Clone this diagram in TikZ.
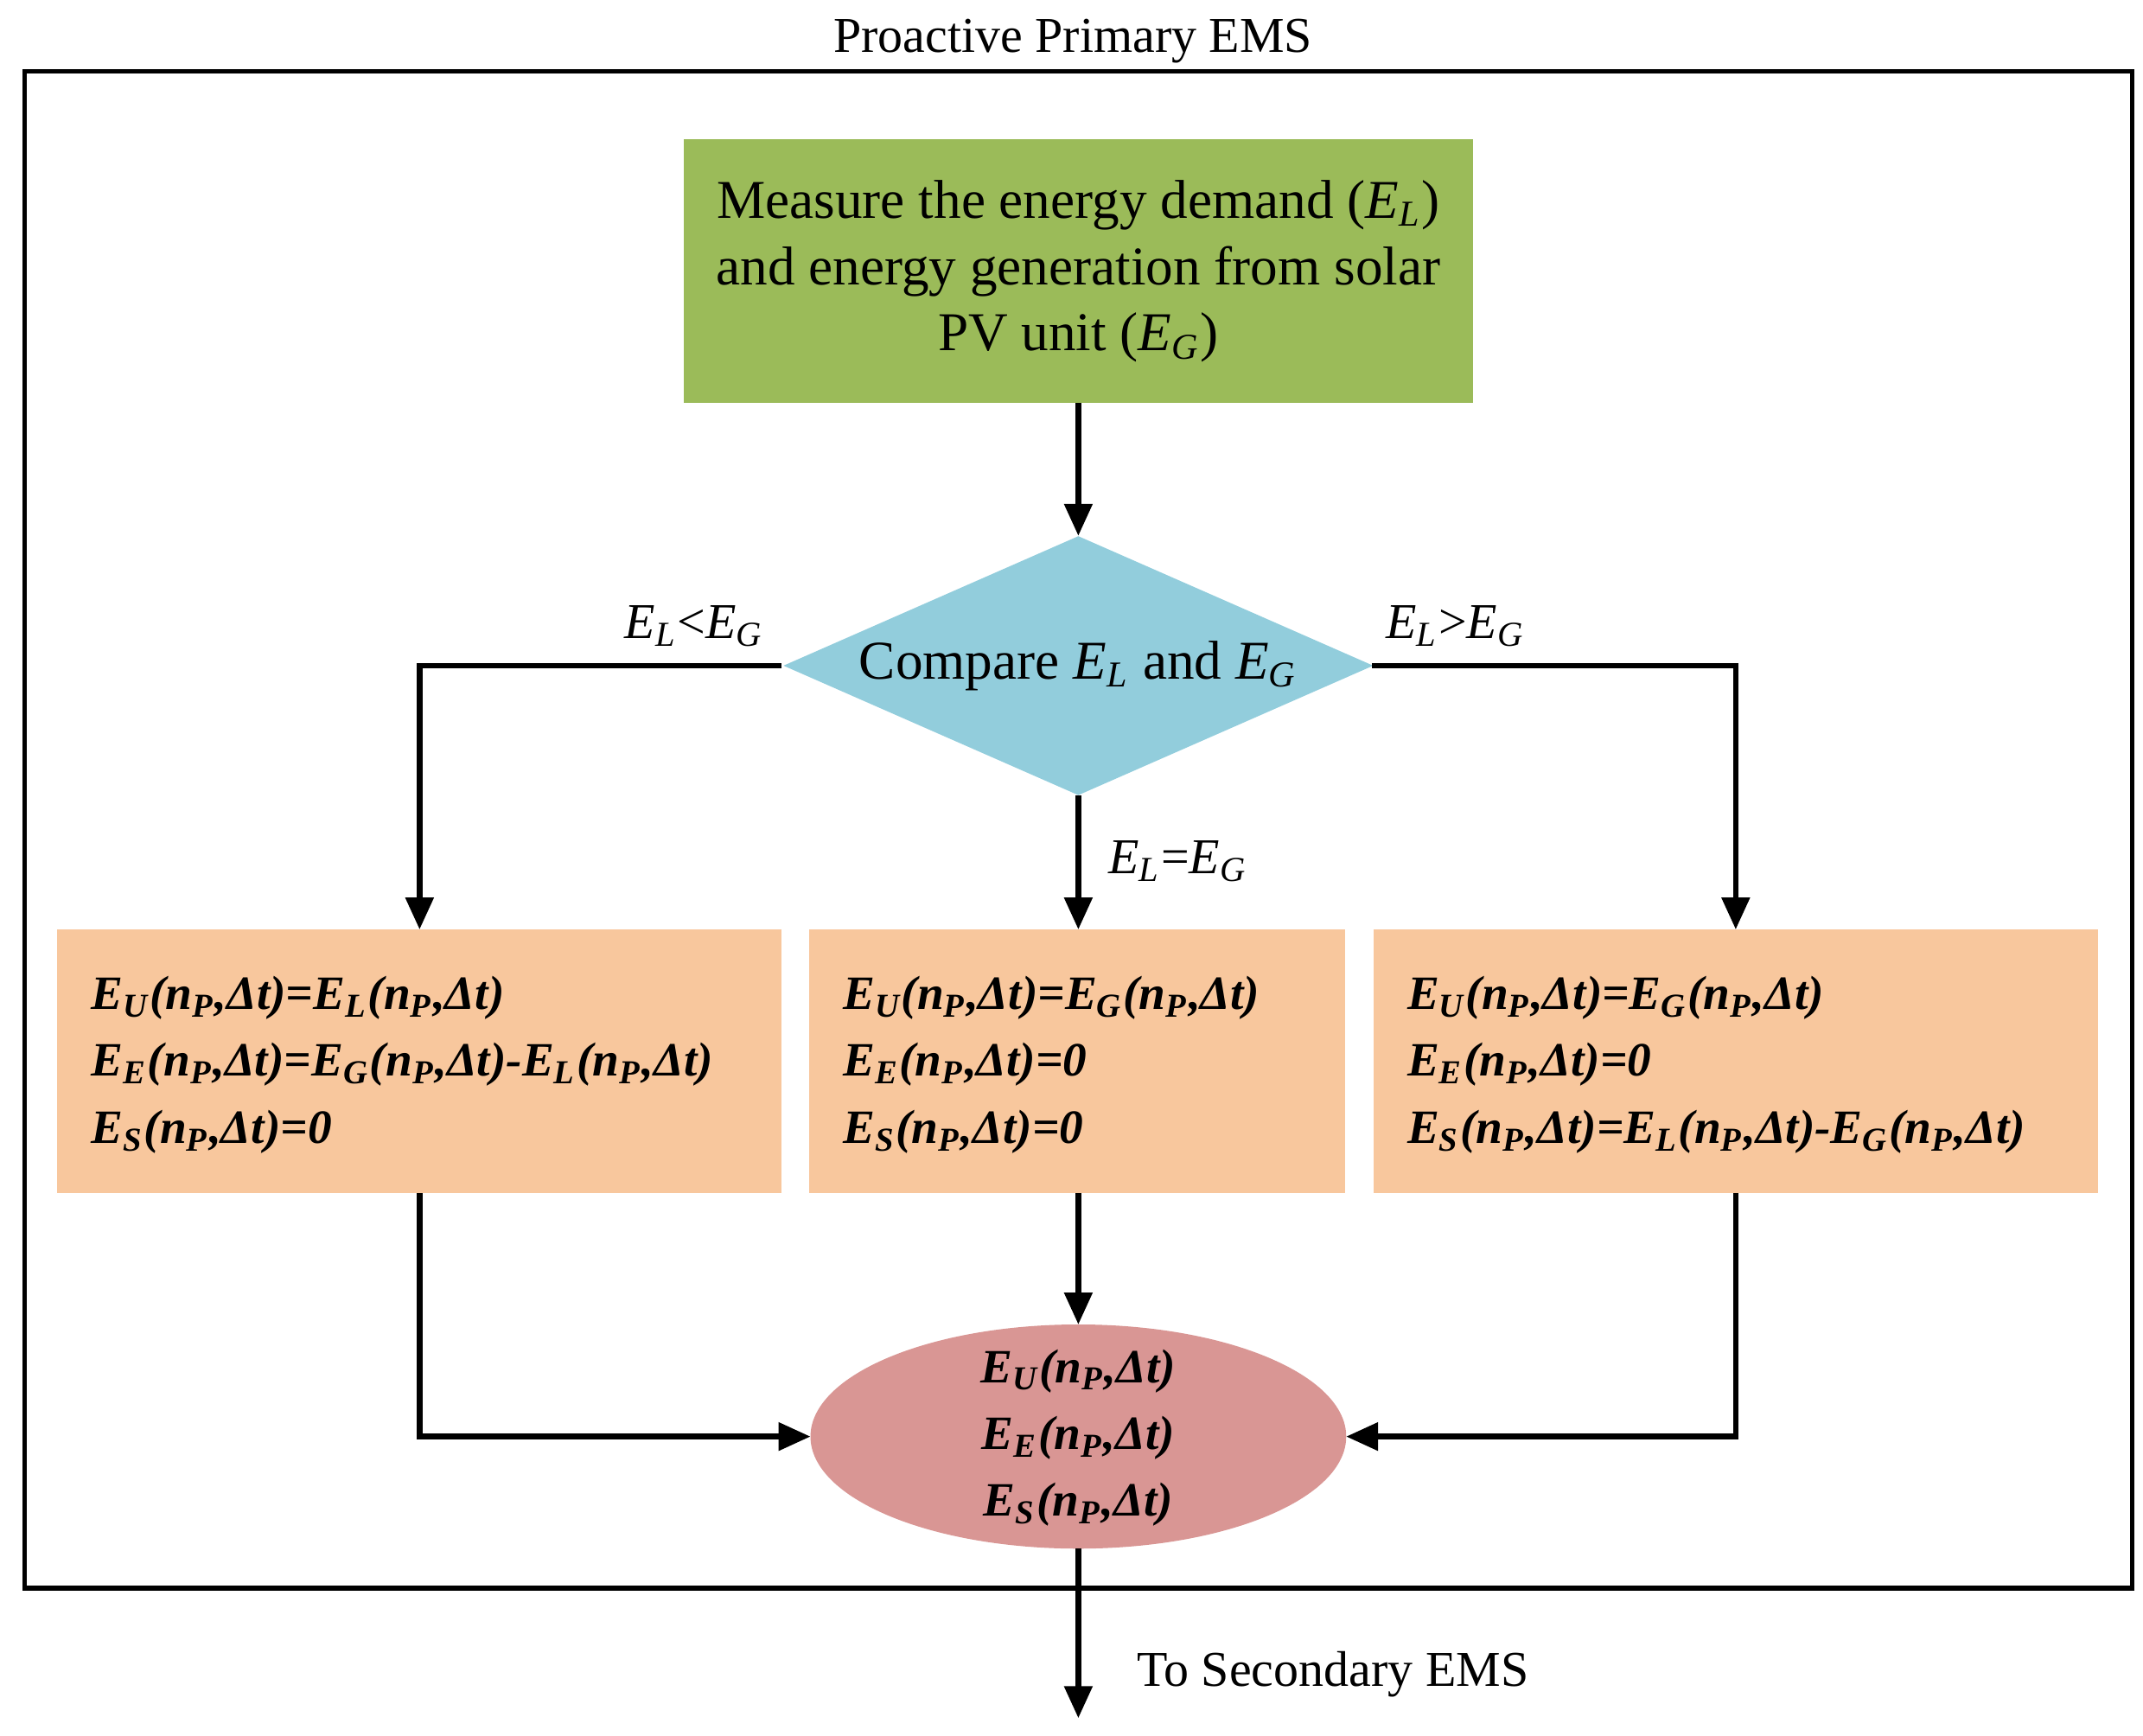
\documentclass[tikz,border=0pt]{standalone}
\usepackage{fontspec}
\setmainfont{Liberation Serif}
\usetikzlibrary{shapes.geometric,arrows.meta}
\definecolor{cgreen}{RGB}{155,187,89}
\definecolor{cblue}{RGB}{146,205,220}
\definecolor{corange}{RGB}{248,199,157}
\definecolor{cred}{RGB}{217,150,148}
\newcommand{\Es}[1]{\textit{E}\textsubscript{\textit{#1}}}
\newcommand{\Eb}[1]{E\textsubscript{#1}}
\newcommand{\np}{(n\textsubscript{P},Δt)}
\begin{document}
\begin{tikzpicture}[x=0.3pt,y=-0.3pt,
  con/.style={line width=1.2pt,-{Triangle[length=7pt,width=6pt]}},
  lbl/.style={font=\fontsize{11}{13}\selectfont},
  eq/.style={font=\fontsize{10.5}{14.7}\selectfont\bfseries\itshape,align=left,anchor=west}]
\useasboundingbox (0,0) rectangle (1568,1270);
\node[lbl] (title) at (785,30) {Proactive Primary EMS};
\draw[line width=1pt] (18,52) rectangle (1560,1162);
\fill[cgreen] (500,102) rectangle (1078,295);
\node (g) at (789,198.5) [inner sep=0,align=center,font=\fontsize{12}{14.6}\selectfont]
 {Measure the energy demand (\Es{L})\\and energy generation from solar\\PV unit (\Es{G})};
\node[diamond,fill=cblue,minimum width=129.6pt,minimum height=57pt,inner sep=0,aspect=2.27,font=\fontsize{12}{14}\selectfont] (d) at (789,487) {Compare \Es{L} and \Es{G}};
\coordinate (gb) at (789,295);
\coordinate (dt) at (789,392);
\coordinate (dl) at (572,487);
\coordinate (dr) at (1004,487);
\coordinate (db) at (789,582);
\fill[corange] (42,680) rectangle (572,873);
\fill[corange] (592,680) rectangle (984,873);
\fill[corange] (1005,680) rectangle (1535,873);
\node[eq] (b1) at (55,779) {\Eb{U}\np=\Eb{L}\np\\\Eb{E}\np=\Eb{G}\np-\Eb{L}\np\\\Eb{S}\np=0};
\node[eq] (b2) at (605,779) {\Eb{U}\np=\Eb{G}\np\\\Eb{E}\np=0\\\Eb{S}\np=0};
\node[eq] (b3) at (1018,779) {\Eb{U}\np=\Eb{G}\np\\\Eb{E}\np=0\\\Eb{S}\np=\Eb{L}\np-\Eb{G}\np};
\node[ellipse,fill=cred,minimum width=117.6pt,minimum height=49.2pt,inner sep=0] (e) at (789,1051) {};
\node[eq,anchor=center,align=center] (et) at (789,1052) {\Eb{U}\np\\\Eb{E}\np\\\Eb{S}\np};
\coordinate (l1) at (307,680); \coordinate (l2) at (307,873);
\coordinate (m1) at (789,680); \coordinate (m2) at (789,873);
\coordinate (r1) at (1270,680); \coordinate (r2) at (1270,873);
\coordinate (et1) at (789,969); \coordinate (el) at (593,1051); \coordinate (er) at (985,1051);
\coordinate (eb) at (789,1133); \coordinate (out) at (789,1257);
\draw[con] (gb) -- (dt);
\draw[con] (dl) -| (l1);
\draw[con] (dr) -| (r1);
\draw[con] (db) -- (m1);
\draw[con] (l2) |- (el);
\draw[con] (r2) |- (er);
\draw[con] (m2) -- (et1);
\draw[con] (eb) -- (out);
\node[lbl] (t1) at (508,458) {\Es{L}<\Es{G}};
\node[lbl] (t2) at (1065,458) {\Es{L}>\Es{G}};
\node[lbl] (t3) at (862,630) {\Es{L}=\Es{G}};
\node[lbl,anchor=west] (t4) at (820,1225) {To Secondary EMS};
\end{tikzpicture}
\end{document}
